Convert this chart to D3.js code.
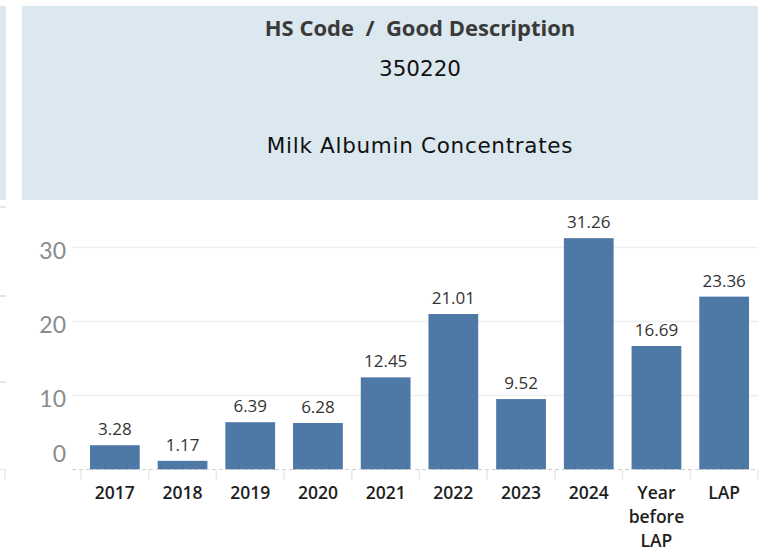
<!DOCTYPE html>
<html>
<head>
<meta charset="utf-8">
<script src="https://cdn.jsdelivr.net/npm/d3@7"></script>
<style>
  html, body { margin: 0; padding: 0; background: #fff; }
  svg { display: block; }
</style>
</head>
<body>
<svg id="chart" width="775" height="550"></svg>
<script>
const categories = ["2017", "2018", "2019", "2020", "2021", "2022", "2023", "2024", "Year before LAP", "LAP"];
const categoryLines = [["2017"], ["2018"], ["2019"], ["2020"], ["2021"], ["2022"], ["2023"], ["2024"], ["Year", "before", "LAP"], ["LAP"]];
const values = [3.28, 1.17, 6.39, 6.28, 12.45, 21.01, 9.52, 31.26, 16.69, 23.36];
const yTicks = [0, 10, 20, 30];
const headerTitle = "HS Code / Good Description";
const headerLines = ["350220", "Milk Albumin Concentrates"];

const svg = d3.select("#chart");

// header panels
svg.append("rect").attr("x", 0).attr("y", 6).attr("width", 6).attr("height", 194).attr("fill", "#dce8ef");
svg.append("rect").attr("x", 22).attr("y", 6).attr("width", 736).attr("height", 194).attr("fill", "#dce8ef");

svg.append("text").attr("x", 420).attr("y", 36).attr("text-anchor", "middle")
  .attr("xml:space", "preserve")
  .attr("font-family", "Open Sans").attr("font-weight", 700).attr("font-size", 22).attr("fill", "#3a3a3a")
  .text(headerTitle.replace(" / ", "  /  "));
svg.append("text").attr("x", 420).attr("y", 76).attr("text-anchor", "middle")
  .attr("font-family", "DejaVu Sans").attr("font-size", 21.5).attr("fill", "#111").text(headerLines[0]);
svg.append("text").attr("x", 420).attr("y", 153).attr("text-anchor", "middle")
  .attr("font-family", "DejaVu Sans").attr("font-size", 21.5).attr("letter-spacing", 0.7).attr("fill", "#111").text(headerLines[1]);

// left pane dividers
[207, 296, 382].forEach(yy => {
  svg.append("line").attr("x1", 0).attr("x2", 6).attr("y1", yy).attr("y2", yy)
    .attr("stroke", "#e6e6e6").attr("stroke-width", 2);
});

const x = d3.scaleBand().domain(categories).range([81, 758]).paddingInner(0.265).paddingOuter(0.1325);
const y = d3.scaleLinear().domain([0, 30]).range([469.5, 247.5]);

// gridlines
svg.append("g").selectAll("line").data(yTicks.filter(d => d > 0)).join("line")
  .attr("x1", 72).attr("x2", 758)
  .attr("y1", d => y(d)).attr("y2", d => y(d))
  .attr("stroke", "#efefef").attr("stroke-width", 1.5);

// y axis labels
svg.append("g").selectAll("text").data(yTicks).join("text")
  .attr("x", 66)
  .attr("y", d => d === 0 ? y(d) - 8 : y(d) + 11)
  .attr("text-anchor", "end")
  .attr("font-family", "Lato").attr("font-size", 23).attr("fill", "#8c8c8c")
  .text(d => d);

// bars
svg.append("g").selectAll("rect").data(values).join("rect")
  .attr("x", (d, i) => x(categories[i]))
  .attr("width", x.bandwidth())
  .attr("y", d => y(d))
  .attr("height", d => y(0) - y(d))
  .attr("fill", "#4e79a7");

// value labels
svg.append("g").selectAll("text").data(values).join("text")
  .attr("x", (d, i) => x(categories[i]) + x.bandwidth() / 2)
  .attr("y", d => y(d) - 10)
  .attr("text-anchor", "middle")
  .attr("font-family", "Open Sans").attr("font-size", 17).attr("fill", "#333")
  .text(d => d.toFixed(2));

// baseline
svg.append("line").attr("x1", 72).attr("x2", 758).attr("y1", y(0)).attr("y2", y(0))
  .attr("stroke", "#cfcfcf").attr("stroke-dasharray", "4,3").attr("stroke-width", 1);
svg.append("line").attr("x1", 0).attr("x2", 6).attr("y1", y(0)).attr("y2", y(0))
  .attr("stroke", "#e6e6e6").attr("stroke-width", 1);

// band dividers
const step = x.step();
const bounds = categories.map(c => x(c) - x.paddingInner() * step / 2).concat([758]);
bounds[0] = 81;
svg.append("g").selectAll("line").data(bounds.concat([5])).join("line")
  .attr("x1", d => d).attr("x2", d => d)
  .attr("y1", y(0)).attr("y2", y(0) + 10)
  .attr("stroke", "#e8e8e8").attr("stroke-width", 1.5);

// x labels
const xl = svg.append("g").selectAll("text").data(categoryLines).join("text")
  .attr("x", (d, i) => x(categories[i]) + x.bandwidth() / 2)
  .attr("y", 498.5)
  .attr("text-anchor", "middle")
  .attr("font-family", "Open Sans").attr("font-weight", 600).attr("font-size", 17.5).attr("fill", "#1e1e1e");
xl.each(function(d) {
  const t = d3.select(this);
  d.forEach((line, j) => {
    t.append("tspan").attr("x", t.attr("x")).attr("y", 498.5 + j * 24).text(line);
  });
});
</script>
</body>
</html>
